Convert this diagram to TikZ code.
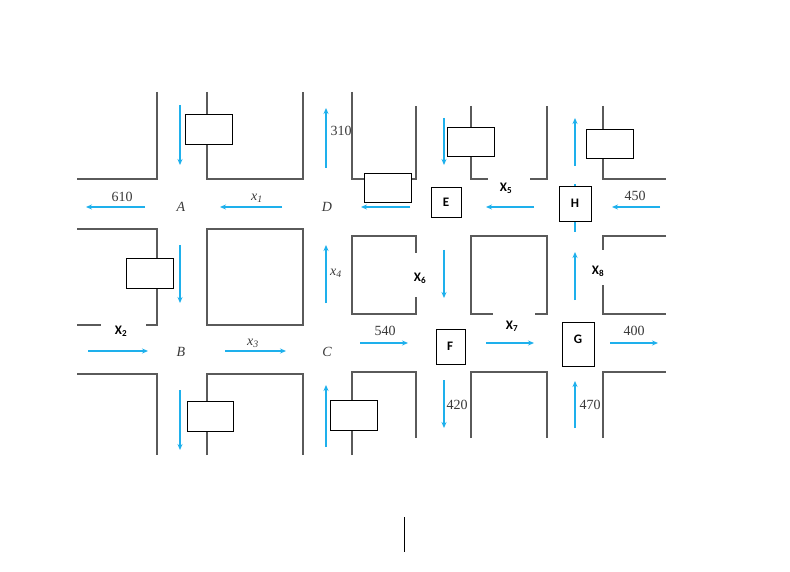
\documentclass[tikz,border=0pt]{standalone}
\usepackage{fontspec}
\setmainfont{Liberation Serif}
\newfontfamily\cb{Carlito}
\usetikzlibrary{arrows.meta}
\definecolor{sky}{HTML}{1EB0EC}
\definecolor{wallc}{HTML}{5A5A5A}
\definecolor{txtg}{HTML}{3A3A3A}
\tikzset{
 wall/.style={draw=wallc,line width=1.4pt},
 gap/.style={fill=white,draw=none},
 bl/.style={draw=sky,line width=1.3pt,-{Stealth[length=6pt,width=5pt]}},
 wbox/.style={draw=black,fill=white,line width=0.9pt},
 num/.style={text=txtg,font=\fontsize{14}{14}\selectfont,inner sep=1pt},
 it/.style={text=txtg,font=\fontsize{14}{14}\selectfont\itshape,inner sep=1pt},
 xl/.style={font=\cb\bfseries\fontsize{13}{13}\selectfont,inner sep=1pt},
 lt/.style={font=\cb\bfseries\fontsize{13}{13}\selectfont},
}
\begin{document}
\begin{tikzpicture}[x=1pt,y=-1pt]
\useasboundingbox[fill=white] (0,0) rectangle (790,572);
% walls
\draw[wall] (157,92)--(157,179)--(77,179);
\draw[wall] (207,92)--(207,179)--(303,179)--(303,92);
\draw[wall] (352,92)--(352,179)--(416,179)--(416,106);
\draw[wall] (471,106)--(471,179)--(547,179)--(547,106);
\draw[wall] (603,106)--(603,179)--(666,179);
\draw[wall] (77,229)--(157,229)--(157,325)--(77,325);
\draw[wall] (207,229) rectangle (303,325);
\draw[wall] (352,236) rectangle (416,314);
\draw[wall] (471,236) rectangle (547,314);
\draw[wall] (666,236)--(603,236)--(603,314)--(666,314);
\draw[wall] (77,374)--(157,374)--(157,455);
\draw[wall] (207,455)--(207,374)--(303,374)--(303,455);
\draw[wall] (352,455)--(352,372)--(416,372)--(416,438);
\draw[wall] (471,438)--(471,372)--(547,372)--(547,438);
\draw[wall] (603,438)--(603,372)--(666,372);
% gaps behind the X labels
\fill[gap] (101,320) rectangle (146,331);
\fill[gap] (488,175) rectangle (530,184);
\fill[gap] (410,253) rectangle (422,297);
\fill[gap] (493,310) rectangle (535,319);
\fill[gap] (598,250) rectangle (609,285);
% arrows
\draw[bl] (180,105)--(180,165);
\draw[bl] (326,168)--(326,108);
\draw[bl] (145,207)--(86,207);
\draw[bl] (282,207)--(220,207);
\draw[bl] (180,245)--(180,303);
\draw[bl] (326,303)--(326,245);
\draw[bl] (88,351)--(148,351);
\draw[bl] (225,351)--(286,351);
\draw[bl] (180,390)--(180,450);
\draw[bl] (326,447)--(326,385);
\draw[bl] (360,343)--(408,343);
\draw[bl] (444,118)--(444,165);
\draw[bl] (410,207)--(361,207);
\draw[bl] (534,207)--(486,207);
\draw[bl] (660,207)--(612,207);
\draw[bl] (575,166)--(575,118);
\draw[draw=sky,line width=1.3pt] (575,232)--(575,184);
\draw[bl] (575,300)--(575,252);
\draw[bl] (444,250)--(444,298);
\draw[bl] (486,343)--(534,343);
\draw[bl] (610,343)--(658,343);
\draw[bl] (444,380)--(444,428);
\draw[bl] (575,428)--(575,381);
% texts
\node[num] (n310) at (341,131) {310};
\node[num] (n610) at (122,197) {610};
\node[it] (x1) at (257,198) {x\textsubscript{1}};
\node[it] (A) at (181,207) {A};
\node[it] (D) at (327,207) {D};
\node[it] (B) at (181,352) {B};
\node[it] (C) at (327,352) {C};
\node[it] (x4) at (336,273) {x\textsubscript{4}};
\node[it] (x3) at (253,343) {x\textsubscript{3}};
\node[num] (n540) at (385,331) {540};
\node[num] (n450) at (635,196) {450};
\node[num] (n400) at (634,331) {400};
\node[num] (n420) at (457,405) {420};
\node[num] (n470) at (590,405) {470};
\node[xl] (X2) at (121,331) {X\textsubscript{2}};
\node[xl] (X5) at (506,188) {X\textsubscript{5}};
\node[xl] (X6) at (420,278) {X\textsubscript{6}};
\node[xl] (X7) at (512,326) {X\textsubscript{7}};
\node[xl] (X8) at (598,271) {X\textsubscript{8}};
% boxes
\draw[wbox] (185,114) rectangle (232,144);
\draw[wbox] (126,258) rectangle (173,288);
\draw[wbox] (187,401) rectangle (233,431);
\draw[wbox] (330,400) rectangle (377,430);
\draw[wbox] (364,173) rectangle (411,202);
\draw[wbox] (447,127) rectangle (494,156);
\draw[wbox] (586,129) rectangle (633,158);
\draw[wbox] (431,187) rectangle (461,217);
\node[lt] (E) at (446,202) {E};
\draw[wbox] (559,186) rectangle (591,221);
\node[lt] (H) at (575,203) {H};
\draw[wbox] (436,329) rectangle (465,364);
\node[lt] (F) at (450,346) {F};
\draw[wbox] (562,322) rectangle (594,366);
\node[lt] (G) at (578,339) {G};
\draw[black,line width=0.9pt] (404,517)--(404,552);
\end{tikzpicture}
\end{document}
